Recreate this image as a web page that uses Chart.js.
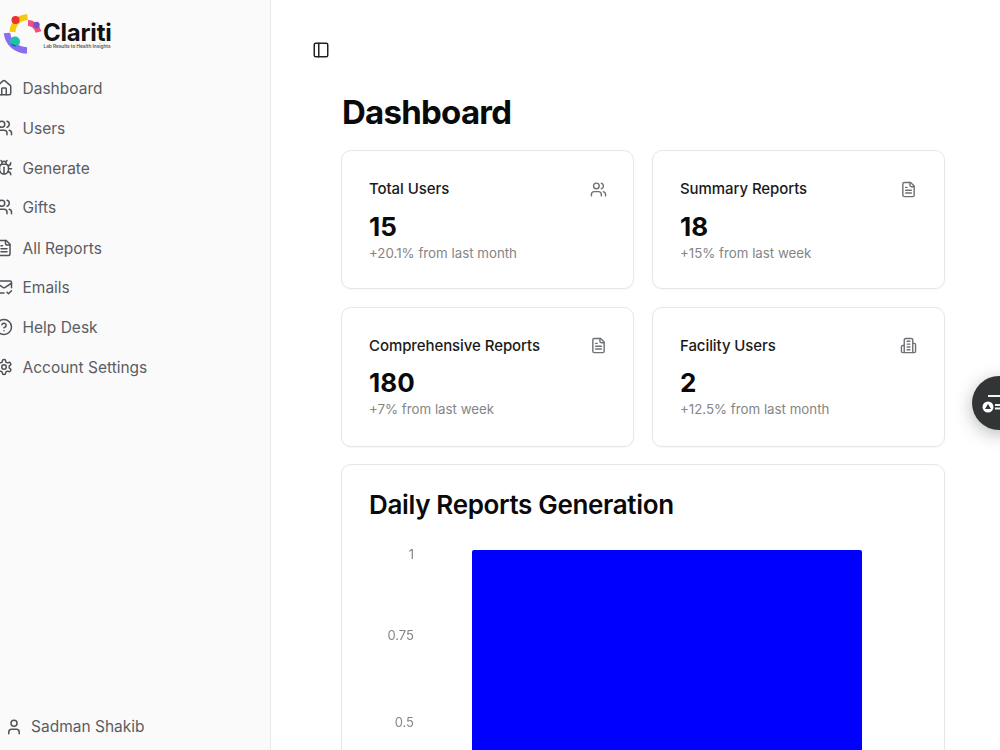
<!DOCTYPE html>
<html lang="en">
<head>
<meta charset="UTF-8">
<title>Clariti Dashboard</title>
<script src="https://cdn.jsdelivr.net/npm/chart.js"></script>
<style>
  * { box-sizing: border-box; }
  html, body { margin: 0; width: 1000px; height: 750px; overflow: hidden; background: #fff; font-family: Inter, sans-serif; }
  .abs { position: absolute; white-space: nowrap; line-height: 1; }
  #sidebar { position: absolute; left: 0; top: 0; width: 271px; height: 750px; background: #fafafa; border-right: 1px solid #e8e8e8; }
  .card { position: absolute; background: #fff; border: 1px solid #e7e7e7; border-radius: 10px; box-shadow: 0 1px 2px rgba(0,0,0,.04); }
  .nav { font-size: 15.5px; color: #5a5d63; }
  .card-title { font-size: 15px; font-weight: 450; color: #1a1a1a; letter-spacing: -.08px; }
  .card-value { font-size: 26px; font-weight: 700; color: #0a0a0a; }
  .card-note { font-size: 13.3px; color: #858585; }
  svg.ic { position: absolute; fill: none; stroke-width: 2; stroke-linecap: round; stroke-linejoin: round; }
  #fab { position: absolute; left: 972px; top: 376px; width: 56px; height: 54px; border-radius: 27px; background: #333436; box-shadow: 0 4px 18px rgba(0,0,0,.28); }
  #reportsChart { position: absolute; left: 342px; top: 530px; }
</style>
</head>
<body>
<div id="sidebar"></div>

<svg class="abs" style="left:0;top:0;filter:blur(.4px)" width="60" height="60" viewBox="0 0 60 60" fill="none">
  <path d="M7 33 C8 43 16 50 27 50.5" stroke="#8b6cf0" stroke-width="6.5"/>
  <path d="M12.5 32 C13 24 18 18 27.5 17" stroke="#f6c90e" stroke-width="6"/>
  <path d="M28 23 C33 23 37 27 38.5 32" stroke="#f0507a" stroke-width="6"/>
  <circle cx="15.5" cy="20" r="4" fill="#e8322f"/>
  <circle cx="36.5" cy="25" r="3.2" fill="#7b4fd0"/>
  <circle cx="15" cy="41.5" r="5" fill="#1fbfa8"/>
  <path d="M10.5 43.5 A5 5 0 0 0 17 46 Z" fill="#1c4fb0"/>
</svg>
<div class="abs" style="left:43px;top:23px;height:20px;line-height:20px;font-size:24px;font-weight:700;color:#111;letter-spacing:-.2px">Clariti</div>
<div class="abs" style="left:43.5px;top:43.5px;font-size:4.7px;font-weight:600;color:#555">Lab Results to Health Insights</div>

<div class="abs" style="left:342px;top:96px;font-size:33px;font-weight:700;color:#0a0a0a;letter-spacing:-.75px">Dashboard</div>

<div class="card" style="left:341px;top:150px;width:293px;height:139px"></div>
<div class="card" style="left:652px;top:150px;width:293px;height:139px"></div>
<div class="card" style="left:341px;top:307px;width:293px;height:140px"></div>
<div class="card" style="left:652px;top:307px;width:293px;height:140px"></div>
<div class="card" style="left:341px;top:464px;width:604px;height:500px"></div>

<div class="abs" style="left:369px;top:492px;font-size:26px;font-weight:600;color:#0a0a0a;letter-spacing:-.34px">Daily Reports Generation</div>

<canvas id="reportsChart" width="602" height="412"></canvas>
<div id="fab"></div>

<script>
const categories = ['Today'];
const reportCounts = [1];
const yTicks = [0, 0.25, 0.5, 0.75, 1];

const navItems = ['Dashboard', 'Users', 'Generate', 'Gifts', 'All Reports', 'Emails', 'Help Desk', 'Account Settings'];
const navRows = [88, 128, 168, 207, 248, 287, 327, 367];
const navIcons = ['house', 'users', 'bug', 'users', 'file', 'mail', 'help', 'gear'];

const cardTitles = ['Total Users', 'Summary Reports', 'Comprehensive Reports', 'Facility Users'];
const cardValues = ['15', '18', '180', '2'];
const cardNotes = ['+20.1% from last month', '+15% from last week', '+7% from last week', '+12.5% from last month'];
const cardIcons = ['users', 'file', 'file', 'building'];
const cardX = [369, 680, 369, 680];
const cardIconX = [589.5, 900, 589.5, 900];
const cardY = [0, 0, 157, 157];

const icons = {
  house: '<path d="M15 21v-8a1 1 0 0 0-1-1h-4a1 1 0 0 0-1 1v8"/><path d="M3 10a2 2 0 0 1 .709-1.528l7-5.999a2 2 0 0 1 2.582 0l7 5.999A2 2 0 0 1 21 10v9a2 2 0 0 1-2 2H5a2 2 0 0 1-2-2z"/>',
  users: '<path d="M16 21v-2a4 4 0 0 0-4-4H6a4 4 0 0 0-4 4v2"/><circle cx="9" cy="7" r="4"/><path d="M22 21v-2a4 4 0 0 0-3-3.87"/><path d="M16 3.13a4 4 0 0 1 0 7.75"/>',
  bug: '<path d="m8 2 1.88 1.88"/><path d="M14.12 3.88 16 2"/><path d="M9 7.13v-1a3.003 3.003 0 1 1 6 0v1"/><path d="M12 20c-3.3 0-6-2.7-6-6v-3a4 4 0 0 1 4-4h4a4 4 0 0 1 4 4v3c0 3.3-2.7 6-6 6"/><path d="M12 20v-9"/><path d="M6.53 9C4.6 8.8 3 7.1 3 5"/><path d="M6 13H2"/><path d="M3 21c0-2.1 1.7-3.9 3.8-4"/><path d="M20.97 5c0 2.1-1.6 3.8-3.5 4"/><path d="M22 13h-4"/><path d="M17.2 17c2.1.1 3.8 1.9 3.8 4"/>',
  file: '<path d="M15 2H6a2 2 0 0 0-2 2v16a2 2 0 0 0 2 2h12a2 2 0 0 0 2-2V7Z"/><path d="M14 2v4a2 2 0 0 0 2 2h4"/><path d="M10 9H8"/><path d="M16 13H8"/><path d="M16 17H8"/>',
  mail: '<path d="M22 13V6a2 2 0 0 0-2-2H4a2 2 0 0 0-2 2v12c0 1.1.9 2 2 2h8"/><path d="m22 7-8.97 5.7a1.94 1.94 0 0 1-2.06 0L2 7"/><path d="m16 19 2 2 4-4"/>',
  help: '<circle cx="12" cy="12" r="10"/><path d="M9.09 9a3 3 0 0 1 5.83 1c0 2-3 3-3 3"/><path d="M12 17h.01"/>',
  gear: '<path d="M12.22 2h-.44a2 2 0 0 0-2 2v.18a2 2 0 0 1-1 1.73l-.43.25a2 2 0 0 1-2 0l-.15-.08a2 2 0 0 0-2.73.73l-.22.38a2 2 0 0 0 .73 2.73l.15.1a2 2 0 0 1 1 1.72v.51a2 2 0 0 1-1 1.74l-.15.09a2 2 0 0 0-.73 2.73l.22.38a2 2 0 0 0 2.73.73l.15-.08a2 2 0 0 1 2 0l.43.25a2 2 0 0 1 1 1.73V20a2 2 0 0 0 2 2h.44a2 2 0 0 0 2-2v-.18a2 2 0 0 1 1-1.73l.43-.25a2 2 0 0 1 2 0l.15.08a2 2 0 0 0 2.73-.73l.22-.39a2 2 0 0 0-.73-2.73l-.15-.08a2 2 0 0 1-1-1.74v-.5a2 2 0 0 1 1-1.74l.15-.09a2 2 0 0 0 .73-2.73l-.22-.38a2 2 0 0 0-2.73-.73l-.15.08a2 2 0 0 1-2 0l-.43-.25a2 2 0 0 1-1-1.73V4a2 2 0 0 0-2-2z"/><circle cx="12" cy="12" r="3"/>',
  building: '<path d="M6 22V4a2 2 0 0 1 2-2h8a2 2 0 0 1 2 2v18Z"/><path d="M6 12H4a2 2 0 0 0-2 2v6a2 2 0 0 0 2 2h2"/><path d="M18 9h2a2 2 0 0 1 2 2v9a2 2 0 0 1-2 2h-2"/><path d="M10 6h4"/><path d="M10 10h4"/><path d="M10 14h4"/><path d="M10 18h4"/>',
  panel: '<rect x="3" y="3" width="18" height="18" rx="2"/><path d="M9 3v18"/>',
  user: '<path d="M19 21v-2a4 4 0 0 0-4-4H9a4 4 0 0 0-4 4v2"/><circle cx="12" cy="7" r="4"/>'
};

function addIcon(name, x, y, size, color) {
  document.body.insertAdjacentHTML('beforeend',
    `<svg class="ic" style="left:${x}px;top:${y}px" width="${size}" height="${size}" viewBox="0 0 24 24" stroke="${color}">${icons[name]}</svg>`);
}

function addText(cls, text, x, centerY, lineBox) {
  document.body.insertAdjacentHTML('beforeend',
    `<div class="abs ${cls}" style="left:${x}px;top:${centerY - lineBox / 2}px;height:${lineBox}px;line-height:${lineBox}px">${text}</div>`);
}

navItems.forEach((item, i) => {
  addIcon(navIcons[i], -5, navRows[i] - 9, 18, '#4f5258');
  addText('nav', item, 22.5, navRows[i] + 1, 20);
});

cardTitles.forEach((title, i) => {
  addText('card-title', title, cardX[i], 189 + cardY[i], 20);
  addText('card-value', cardValues[i], cardX[i], 227 + cardY[i] - (i > 1 ? 1 : 0), 30);
  addText('card-note', cardNotes[i], cardX[i], 253 + cardY[i] - (i > 1 ? 1 : 0), 18);
  addIcon(cardIcons[i], cardIconX[i], 180.5 + cardY[i] - (i > 1 ? 0.5 : 0), 17, '#6f7276');
});

addIcon('panel', 312, 41, 18, '#222');
addIcon('user', 5, 718, 18, '#4f5258');
addText('nav', 'Sadman Shakib', 31, 727, 20);

// fab glyph, clipped by the window edge
document.body.insertAdjacentHTML('beforeend',
  `<svg class="abs" style="left:980px;top:388px" width="20" height="30" fill="none" stroke="#f4f4f4" stroke-width="2"><path d="M8 8H20M15 17H20M15 20.5H20"/><circle cx="8" cy="19" r="5.5" fill="#fff" stroke="none"/><path d="M8 16 l3 5 h-6z" fill="#333" stroke="none"/></svg>`);

new Chart(document.getElementById('reportsChart'), {
  type: 'bar',
  data: {
    labels: categories,
    datasets: [{
      label: 'Reports',
      data: reportCounts,
      backgroundColor: '#0000ff',
      borderRadius: { topLeft: 2, topRight: 2 },
      borderSkipped: 'bottom',
      categoryPercentage: 1,
      barPercentage: 0.8025
    }]
  },
  options: {
    responsive: false,
    animation: false,
    layout: { padding: { top: 10, right: 34 } },
    plugins: { legend: { display: false }, tooltip: { enabled: false } },
    scales: {
      x: {
        grid: { display: false },
        border: { display: false },
        ticks: { color: '#858585', font: { family: 'Inter', size: 13 } },
        afterFit: (axis) => { axis.height = 46; }
      },
      y: {
        min: 0,
        max: 1,
        afterBuildTicks: (axis) => { axis.ticks = yTicks.map((value) => ({ value })); },
        grid: { display: false, drawTicks: false },
        border: { display: false },
        ticks: {
          color: '#858585',
          padding: 10,
          // top label sits a little under its tick, as in the original
          font: { family: 'Inter', size: 13, lineHeight: '10px' },
          callback: (value) => (value === 1 ? ['', '1'] : String(value))
        },
        afterFit: (axis) => { axis.width = 82; }
      }
    }
  }
});
</script>
</body>
</html>
